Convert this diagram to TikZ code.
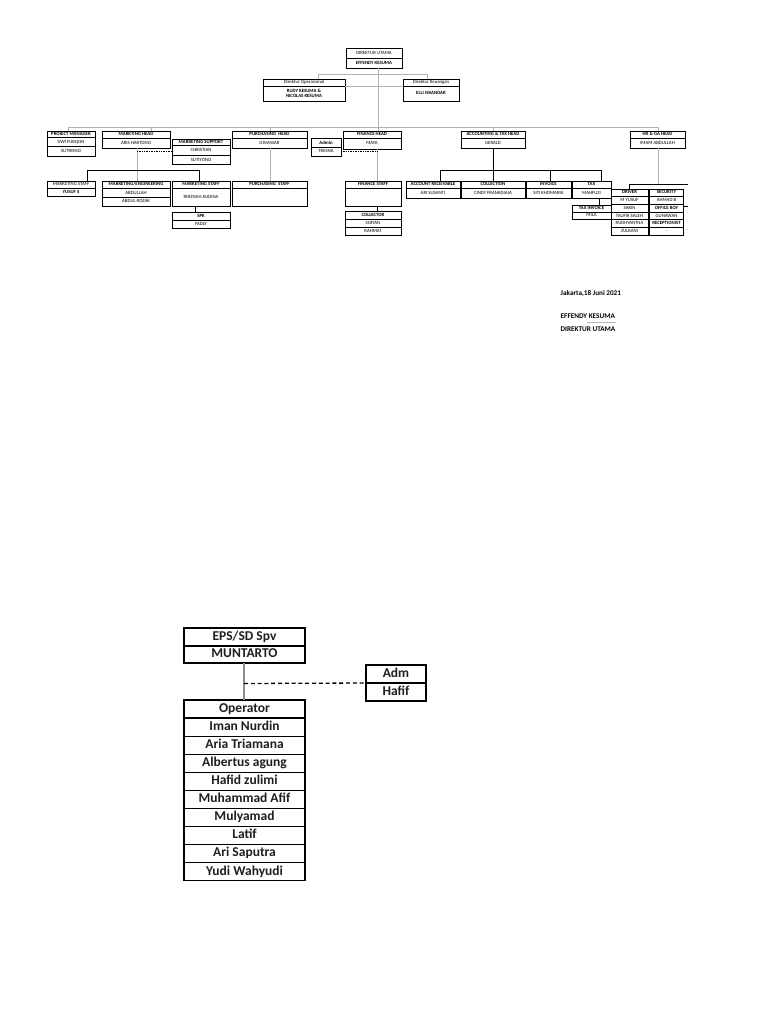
\documentclass[tikz,border=0pt]{standalone}
\usepackage{fontspec}
\setmainfont{Carlito}
\tikzset{
  cellbox/.style={draw=black, line width=0.75pt, inner sep=0pt, outer sep=0pt, align=center,
    text height=3.4pt, text depth=1.1pt, font=\fontsize{4.8}{5.4}\selectfont},
  hd/.style={font=\fontsize{4.8}{5.4}\selectfont\bfseries},
  bigbox/.style={line width=1.2pt, text=black!88, text height=9.4pt, text depth=2.8pt,
    font=\fontsize{13.5}{15}\selectfont\bfseries},
  graylink/.style={draw=black!30, line width=0.9pt},
  blacklink/.style={draw=black, line width=0.9pt},
  dotlink/.style={draw=black, line width=0.9pt, dash pattern=on 0.8pt off 0.9pt},
  siglabel/.style={inner sep=0pt, anchor=west, font=\fontsize{7.2}{8}\selectfont\bfseries},
}
\newcommand\bx[7][]{%
  \pgfmathsetmacro\bxw{#5-#3}\pgfmathsetmacro\bxh{#6-#4}%
  \node[cellbox, minimum width=\bxw pt, minimum height=\bxh pt, anchor=north west, #1] (#2) at (#3,#4) {#7};}
\begin{document}
\begin{tikzpicture}[x=1pt,y=-1pt]
\fill[white] (0,0) rectangle (768,1024);
\useasboundingbox (0,0) rectangle (768,1024);

% ---------- directors ----------
\bx{du}{346}{48}{402}{58}{DIREKTUR UTAMA}
\bx[hd]{duN}{346}{58}{402}{68}{EFFENDY KESUMA}
\bx{do}{263}{79}{345}{86}{Direktur Operasional}
\bx[hd, text height=, text depth=]{doN}{263}{86}{345}{101}{RUDY KESUMA \&\\NICOLAS KESUMA}
\bx{dk}{403}{79}{459}{86}{Direktur Keuangan}
\bx[hd]{dkN}{403}{86}{459}{101}{ELLI ISKANDAR}

\coordinate (dirL) at (318,74);
\coordinate (dirR) at (427,74);
\draw[graylink] (do.north -| dirL) -- (dirL) -- (dirR) -- (dk.north -| dirR);
\draw[graylink] (do.south east) -- (dk.south west);

% ---------- department bus ----------
\coordinate (busL) at (68,127);
\coordinate (busR) at (658,127);
\coordinate (busDU) at (378,127);
\draw[graylink] (duN.south -| busDU) -- (busDU);
\draw[graylink] (busL) -- (busR);

% ---------- heads ----------
\bx[hd]{pm}{47}{131}{95}{137.5}{PROJECT MANAGER}
\bx{pm2}{47}{137.5}{95}{146.5}{DWI FURQON}
\bx{pm3}{47}{146.5}{95}{156}{SUTRISNO}
\bx[hd]{mh}{102}{131}{170}{138.5}{MARKTING HEAD}
\bx{mh2}{102}{138.5}{170}{148}{ARIS HARTONO}
\bx[hd]{ms}{172}{139}{230}{145.7}{MARKETING SUPPORT}
\bx{ms2}{172}{145.7}{230}{155.3}{CHRISTIAN}
\bx{ms3}{172}{155.3}{230}{164.5}{SUTIYONO}
\bx[hd]{ph}{232}{131}{307}{138.5}{PURCHASING\ \ HEAD}
\bx{ph2}{232}{138.5}{307}{148}{GINANJAR}
\bx[hd]{adm}{311}{138.5}{341}{147.5}{Admin}
\bx{adm2}{311}{147.5}{341}{156}{TRESNA}
\bx[hd]{fh}{343}{131}{401}{138.5}{FINANCE HEAD}
\bx{fh2}{343}{138.5}{401}{149}{MAYA}
\bx[hd]{ath}{461}{131}{525}{138.5}{ACCOUNTING \& TAX HEAD}
\bx{ath2}{461}{138.5}{525}{148}{GERALD}
\bx[hd]{hr}{630}{131}{685}{138.5}{HR \& GA HEAD}
\bx{hr2}{630}{138.5}{685}{148}{IMAM ABDULLAH}

\coordinate (tMH) at (151,127);
\coordinate (tPH) at (270,127);
\coordinate (tATH) at (493,127);
\draw[graylink] (busL) -- (pm.north -| busL);
\draw[graylink] (tMH) -- (mh.north -| tMH);
\draw[graylink] (tPH) -- (ph.north -| tPH);
\draw[graylink] (busDU) -- (fh.north -| busDU);
\draw[graylink] (tATH) -- (ath.north -| tATH);
\draw[graylink] (busR) -- (hr.north -| busR);

% ---------- marketing ----------
\bx{mst}{47}{181}{95}{188.3}{MARKETING STAFF}
\bx[hd]{mstN}{47}{188.3}{95}{196}{YUSUF S}
\bx[hd]{me}{102}{181}{170}{188.3}{MARKETING/ENGINEERING}
\bx{me2}{102}{188.3}{170}{197.5}{ABDULLAH}
\bx{me3}{102}{197.5}{170}{206}{ABDUL ROZAK}
\bx[hd]{msf}{172}{181}{230}{188.3}{MARKETING STAFF}
\bx{msf2}{172}{188.3}{230}{206}{RHIZNAH AUDINA}
\bx[hd]{spk}{172}{212.5}{230}{220}{SPK}
\bx{spk2}{172}{220}{230}{228.3}{FADLY}

\coordinate (mkV) at (137,170);
\coordinate (mkD) at (137,151);
\coordinate (mkL) at (87,170);
\coordinate (mkR) at (199,170);
\coordinate (spkV) at (195,209);
\draw[graylink] (mh2.south -| mkV) -- (me.north -| mkV);
\draw[dotlink] (mkD) -- (ms2.west |- mkD);
\draw[blacklink] (mkL) -- (mkR);
\draw[blacklink] (mkL) -- (mst.north -| mkL);
\draw[blacklink] (mkR) -- (msf.north -| mkR);
\draw[blacklink] (msf2.south -| spkV) -- (spk.north -| spkV);

% ---------- purchasing ----------
\bx[hd]{ps}{232}{181}{307}{188.3}{PURCHASING\ \ STAFF}
\bx{ps2}{232}{188.3}{307}{206}{}
\coordinate (psV) at (270,165);
\draw[graylink] (ph2.south -| psV) -- (ps.north -| psV);

% ---------- finance ----------
\bx[hd]{fs}{345}{181}{401}{188.3}{FINANCE STAFF}
\bx{fs2}{345}{188.3}{401}{206}{}
\bx[hd]{col}{345}{211.5}{401}{219}{COLLECTOR}
\bx{col2}{345}{219}{401}{227}{SOFIAN}
\bx{col3}{345}{227}{401}{235}{RAHMAT}
\coordinate (fV) at (377,151);
\draw[graylink] (fh2.south -| fV) -- (fs.north -| fV);
\draw[dotlink] (adm2.east |- fV) -- (fV);
\draw[blacklink] (fs2.south -| fV) -- (col.north -| fV);

% ---------- accounting ----------
\bx[hd]{ar}{406}{181}{460}{188}{ACCOUNT RECEIVABLE}
\bx{ar2}{406}{188}{460}{198}{ARI SUSANTI}
\bx[hd]{coll}{461}{181}{525}{188}{COLLECTION}
\bx{coll2}{461}{188}{525}{198}{CINDY FRANADIAJA}
\bx[hd]{inv}{526}{181}{571}{188}{INVOICE}
\bx{inv2}{526}{188}{571}{198}{SITI KHOMARIA}
\bx[hd]{tax}{572}{181}{611}{188}{TAX}
\bx{tax2}{572}{188}{611}{198}{MAHFUZI}
\bx[hd]{ti}{572}{205}{611}{212}{TAX INVOICE}
\bx{ti2}{572}{212}{611}{219.5}{MILA}
\coordinate (acL) at (440,170);
\coordinate (acM) at (493,170);
\coordinate (acI) at (550,170);
\coordinate (acR) at (601,170);
\coordinate (tiV) at (599,201);
\draw[blacklink] (ath2.south -| acM) -- (coll.north -| acM);
\draw[blacklink] (acL) -- (acR);
\draw[blacklink] (acL) -- (ar.north -| acL);
\draw[blacklink] (acI) -- (inv.north -| acI);
\draw[blacklink] (acR) -- (tax.north -| acR);
\draw[blacklink] (tax2.south -| tiV) -- (ti.north -| tiV);

% ---------- HR & GA ----------
\bx[hd]{drv}{611}{189}{648}{196.7}{DRIVER}
\bx{drv2}{611}{196.7}{648}{204.4}{M YUSUF}
\bx{drv3}{611}{204.4}{648}{212.1}{SAKIN}
\bx{drv4}{611}{212.1}{648}{219.8}{TAUFIK SALEH}
\bx{drv5}{611}{219.8}{648}{227.5}{RUDHYANTNA}
\bx{drv6}{611}{227.5}{648}{235.2}{ZULKANI}
\bx[hd]{sec}{649.5}{189}{683.5}{196.7}{SECURITY}
\bx{sec2}{649.5}{196.7}{683.5}{204.4}{AHMAD B}
\bx[hd]{sec3}{649.5}{204.4}{683.5}{212.1}{OFFICE BOY}
\bx{sec4}{649.5}{212.1}{683.5}{219.8}{GUNAWAN}
\bx[hd]{sec5}{649.5}{219.8}{683.5}{227.5}{RECEPTIONIST}
\bx{sec6}{649.5}{227.5}{683.5}{235.2}{-}
\coordinate (hrV) at (658,184);
\coordinate (hrL) at (629,184);
\coordinate (hrR) at (688,184);
\coordinate (hrT) at (688,206);
\draw[graylink] (hr2.south -| hrV) -- (hrV);
\draw[blacklink] (hrL) -- (hrR);
\draw[blacklink] (hrL) -- (drv.north -| hrL);
\draw[blacklink, line width=0.6pt] (sec3.north east |- hrT) -- (hrT);
\fill[black!45] (687,213) circle (0.5);
\fill[black!45] (687,230) circle (0.5);

% ---------- signature ----------
\node[siglabel] (place) at (560.5,293.5) {Jakarta,18 Juni 2021};
\node[siglabel] (sname) at (560.5,316.5) {EFFENDY KESUMA};
\node[siglabel] (stitle) at (560.5,329) {DIREKTUR UTAMA};
\draw[black!30, line width=0.6pt] (587,322.7) -- (stitle.north east |- 0,322.7);

% ---------- EPS/SD chart ----------
\bx[bigbox]{eps}{184}{628}{305}{646}{EPS/SD Spv}
\bx[bigbox]{epsN}{184}{646}{305}{663}{MUNTARTO}
\bx[bigbox]{admb}{366}{665}{426}{683}{Adm}
\bx[bigbox]{admN}{366}{683}{426}{701}{Hafif}
\foreach \nm [count=\i from 0] in {Operator,Iman Nurdin,Aria Triamana,Albertus agung,Hafid zulimi,Muhammad Afif,Mulyamad,Latif,Ari Saputra,Yudi Wahyudi}{
  \pgfmathsetmacro\ya{700+18.08*\i}
  \pgfmathsetmacro\yb{700+18.08*(\i+1)}
  \bx[bigbox]{op\i}{184}{\ya}{305}{\yb}{\nm}
}
\coordinate (opV) at (244,683.5);
\draw[black!45, line width=2pt] (epsN.south -| opV) -- (op0.north -| opV);
\draw[black, line width=1.3pt, dash pattern=on 4pt off 2.8pt] (opV) -- (admN.north west);
\end{tikzpicture}
\end{document}
